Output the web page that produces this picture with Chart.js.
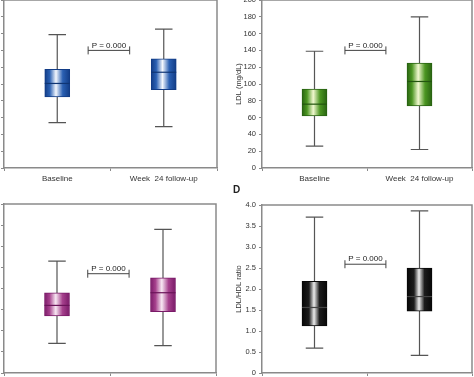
<!DOCTYPE html>
<html>
<head>
<meta charset="utf-8">
<script src="https://cdn.jsdelivr.net/npm/chart.js@4/dist/chart.umd.min.js"></script>
<style>
  html, body { margin: 0; padding: 0; background: #fff; overflow: hidden; }
  #wrap { position: relative; width: 474px; height: 377px; }
  .panel { position: absolute; }
  #panelLabel { position: absolute; left: 233px; top: 184px; font: bold 10px 'Liberation Sans', Arial, sans-serif; color: #222; }
</style>
</head>
<body>
<div id="wrap">
  <div class="panel" style="left:0;top:0"><canvas id="chartA" width="237" height="190"></canvas></div>
  <div class="panel" style="left:234px;top:0"><canvas id="chartB" width="240" height="190"></canvas></div>
  <div class="panel" style="left:0;top:190px"><canvas id="chartC" width="237" height="187"></canvas></div>
  <div class="panel" style="left:234px;top:190px"><canvas id="chartD" width="240" height="187"></canvas></div>
  <div id="panelLabel">D</div>
</div>
<script>
const categories = ['Baseline', 'Week  24 follow-up'];
// five-number summaries: [min, q1, median, q3, max]
const tcBaseline = [81, 127, 151, 176, 238];
const tcWeek24 = [74, 140, 171, 195, 248];
const ldlBaseline = [26, 62, 76, 94, 139];
const ldlWeek24 = [22, 74, 103, 125, 180];
const hdlBaseline = [14, 27, 32, 38, 53];
const hdlWeek24 = [13, 29, 38, 45, 68];
const ratioBaseline = [0.59, 1.12, 1.56, 2.18, 3.71];
const ratioWeek24 = [0.42, 1.47, 1.82, 2.50, 3.86];
const pLabel = 'P = 0.000';

Chart.defaults.font.family = "'Liberation Sans', Arial, sans-serif";
Chart.defaults.font.size = 8;
Chart.defaults.color = '#333';

const axisGray = '#8a8a8a';

function gradFor(ctx, x0, x1, cols, stops) {
  const g = ctx.createLinearGradient(x0, 0, x1, 0);
  cols.forEach((c, i) => g.addColorStop(stops[i], c));
  return g;
}

const boxPlugin = {
  id: 'boxPlot',
  beforeDatasetsDraw(chart) {
    const ds = chart.data.datasets[0];
    const meta = chart.getDatasetMeta(0);
    const y = chart.scales.y;
    const ctx = chart.ctx;
    ctx.save();
    ctx.strokeStyle = '#555';
    ctx.lineWidth = 1.2;
    meta.data.forEach((el, i) => {
      const s = ds.stats[i];
      const cap = el.width * 0.35;
      ctx.beginPath();
      ctx.moveTo(el.x, y.getPixelForValue(s[4]));
      ctx.lineTo(el.x, y.getPixelForValue(s[0]));
      ctx.moveTo(el.x - cap, y.getPixelForValue(s[4]));
      ctx.lineTo(el.x + cap, y.getPixelForValue(s[4]));
      ctx.moveTo(el.x - cap, y.getPixelForValue(s[0]));
      ctx.lineTo(el.x + cap, y.getPixelForValue(s[0]));
      ctx.stroke();
      el.options.backgroundColor = gradFor(ctx, el.x - el.width / 2, el.x + el.width / 2, ds.shade, ds.shadeStops);
    });
    ctx.restore();
  },
  afterDatasetsDraw(chart) {
    const ds = chart.data.datasets[0];
    const meta = chart.getDatasetMeta(0);
    const x = chart.scales.x, y = chart.scales.y;
    const ctx = chart.ctx;
    ctx.save();
    ctx.strokeStyle = ds.medianColor;
    ctx.lineWidth = 1.2;
    meta.data.forEach((el, i) => {
      const my = y.getPixelForValue(ds.stats[i][2]);
      ctx.beginPath();
      ctx.moveTo(el.x - el.width / 2, my);
      ctx.lineTo(el.x + el.width / 2, my);
      ctx.stroke();
    });
    // significance bracket
    const by = y.getPixelForValue(ds.bracket);
    const bx0 = x.getPixelForValue(0.29), bx1 = x.getPixelForValue(0.68);
    ctx.strokeStyle = '#444';
    ctx.lineWidth = 1;
    ctx.beginPath();
    ctx.moveTo(bx0, by); ctx.lineTo(bx1, by);
    ctx.moveTo(bx0, by - 4); ctx.lineTo(bx0, by + 4);
    ctx.moveTo(bx1, by - 4); ctx.lineTo(bx1, by + 4);
    ctx.stroke();
    ctx.fillStyle = '#222';
    ctx.font = "8px 'Liberation Sans', Arial, sans-serif";
    ctx.textAlign = 'center';
    ctx.textBaseline = 'bottom';
    ctx.fillText(pLabel, (bx0 + bx1) / 2, by - 1);
    ctx.restore();
  },
  afterDraw(chart) {
    const a = chart.chartArea;
    const ctx = chart.ctx;
    ctx.save();
    ctx.strokeStyle = axisGray;
    ctx.lineWidth = 1.5;
    ctx.beginPath();
    ctx.moveTo(a.left, a.top);
    ctx.lineTo(a.right, a.top);
    ctx.lineTo(a.right, a.bottom);
    ctx.stroke();
    ctx.restore();
  }
};

function makeChart(id, cfg) {
  return new Chart(document.getElementById(id), {
    type: 'bar',
    data: {
      labels: categories,
      datasets: [{
        data: [[cfg.stats[0][1], cfg.stats[0][3]], [cfg.stats[1][1], cfg.stats[1][3]]],
        stats: cfg.stats,
        bracket: cfg.bracket,
        shade: cfg.shade,
        shadeStops: cfg.shadeStops,
        medianColor: cfg.medianColor,
        backgroundColor: () => cfg.shade[0],
        borderColor: cfg.shade[0],
        borderWidth: 1,
        borderSkipped: false,
        barThickness: 25
      }]
    },
    options: {
      responsive: false,
      animation: false,
      layout: { padding: cfg.padding },
      plugins: { legend: { display: false }, tooltip: { enabled: false } },
      scales: {
        x: {
          offset: true,
          grid: { offset: true, drawOnChartArea: false, drawTicks: true, tickLength: 3, color: axisGray },
          border: { color: axisGray, width: 1.5 },
          ticks: { display: cfg.xLabels, padding: 3, color: '#333', maxRotation: 0 },
          afterFit: s => { s.height = cfg.xHeight; s.paddingLeft = 0; s.paddingRight = 0; }
        },
        y: {
          min: 0, max: cfg.yMax,
          grid: { drawOnChartArea: false, drawTicks: true, tickLength: 3, color: axisGray },
          border: { color: axisGray, width: 1.5 },
          ticks: { display: cfg.yLabels, stepSize: cfg.yStep, padding: 3, color: '#333', font: { size: 7.5 }, callback: cfg.yFmt },
          title: { display: !!cfg.yTitle, text: cfg.yTitle, padding: 0, color: '#333', font: { size: 7.5 } },
          afterFit: s => { s.width = cfg.yWidth; s.paddingTop = 0; s.paddingBottom = 0; }
        }
      }
    },
    plugins: [boxPlugin]
  });
}

makeChart('chartA', {
  stats: [tcBaseline, tcWeek24], bracket: 210, yMax: 300, yStep: 30,
  shade: ['#123c86', '#2a60b3', '#f3f7fd', '#2a60b3', '#123c86'], shadeStops: [0, 0.2, 0.45, 0.72, 1],
  medianColor: '#0f3574', padding: { left: 0, top: 0, right: 20, bottom: 0 },
  xLabels: true, xHeight: 22, yLabels: false, yWidth: 4
});
makeChart('chartB', {
  stats: [ldlBaseline, ldlWeek24], bracket: 140, yMax: 200, yStep: 20,
  shade: ['#286311', '#4c9622', '#f1f8cf', '#4c9622', '#286311'], shadeStops: [0, 0.2, 0.45, 0.72, 1],
  medianColor: '#23550f', padding: { left: 0, top: 0, right: 2, bottom: 0 },
  xLabels: true, xHeight: 22, yLabels: true, yWidth: 28, yTitle: 'LDL (mg/dL)'
});
makeChart('chartC', {
  stats: [hdlBaseline, hdlWeek24], bracket: 47, yMax: 80, yStep: 10,
  shade: ['#7a1a68', '#a6418d', '#f8e8f3', '#a6418d', '#7a1a68'], shadeStops: [0, 0.2, 0.45, 0.72, 1],
  medianColor: '#6a1459', padding: { left: 0, top: 14, right: 21, bottom: 0 },
  xLabels: false, xHeight: 4, yLabels: false, yWidth: 4
});
makeChart('chartD', {
  stats: [ratioBaseline, ratioWeek24], bracket: 2.59, yMax: 4, yStep: 0.5,
  shade: ['#070707', '#1c1c1c', '#ececec', '#1c1c1c', '#070707'], shadeStops: [0, 0.28, 0.48, 0.7, 1],
  medianColor: '#444', padding: { left: 0, top: 15, right: 2, bottom: 0 },
  xLabels: false, xHeight: 4, yLabels: true, yWidth: 28, yTitle: 'LDL/HDL ratio',
  yFmt: v => v === 0 ? '0' : v.toFixed(1)
});
</script>
</body>
</html>
